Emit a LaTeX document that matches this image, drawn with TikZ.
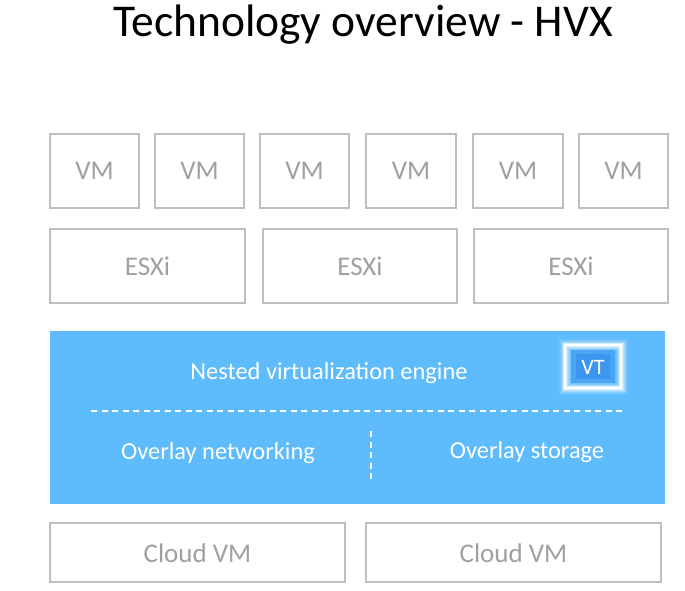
\documentclass[tikz,border=0pt]{standalone}
\usepackage{fontspec}
\setmainfont{Carlito}
\definecolor{boxgray}{RGB}{190,190,190}
\definecolor{txtgray}{RGB}{160,160,160}
\definecolor{engblue}{RGB}{94,187,252}
\definecolor{vtblue}{RGB}{60,150,240}
\begin{document}
\begin{tikzpicture}[x=1pt,y=-1pt,
  graybox/.style={draw=boxgray,line width=1.3pt,fill=white},
  graytxt/.style={text=txtgray,font=\fontsize{27}{31}\selectfont},
  whitetxt/.style={text=white,font=\fontsize{24.4}{28}\selectfont},
  sep/.style={draw=white,line width=1.2pt,dash pattern=on 6pt off 4.5pt}]
\useasboundingbox (0,0) rectangle (685,590);
% title
\node[font=\fontsize{45.5}{52}\selectfont] (title) at (363,25) {Technology overview - HVX};
% VMs
\foreach \l/\r [count=\i] in {50/139,155/244,260/349,366/456,473/563,579/668}{
  \draw[graybox] (\l,134) rectangle (\r,208);
  \node[graytxt] (vm\i) at ({(\l+\r)/2},171) {VM};
}
% ESXi
\foreach \l/\r [count=\i] in {50/245,263/457,474/668}{
  \draw[graybox] (\l,229) rectangle (\r,303);
  \node[graytxt] (esx\i) at ({(\l+\r)/2},266) {ESXi};
}
% engine
\fill[engblue] (50,331) rectangle (665,504);
\node[whitetxt] (eng) at (329,373) {Nested virtualization engine};
\coordinate (hl) at (91,411);
\coordinate (hr) at (622,411);
\draw[sep] (hl) -- (hr);
\coordinate (vt1) at (371,431);
\coordinate (vb1) at (371,479);
\draw[sep] (vt1) -- (vb1);
\node[whitetxt] (net) at (218,453) {Overlay networking};
\node[whitetxt] (sto) at (527,452) {Overlay storage};
% VT glow box
\foreach \w/\o in {14/0.06,11/0.1,9/0.14,7/0.2,5/0.3,3.5/0.5}{
  \draw[white,line width=\w pt,opacity=\o] (565,345) rectangle (621,388);
}
\draw[white,line width=2pt] (565,345) rectangle (621,388);
\fill[vtblue!60!engblue] (571,350) rectangle (615,383);
\fill[vtblue] (576,354) rectangle (610,379);
\node[text=white,font=\fontsize{22}{26}\selectfont] (vt) at (593,367) {VT};
% Cloud VMs
\draw[graybox] (50,523) rectangle (345,582);
\node[graytxt] (c1) at (197.5,553) {Cloud VM};
\draw[graybox] (366,523) rectangle (661,582);
\node[graytxt] (c2) at (513.5,553) {Cloud VM};
\end{tikzpicture}
\end{document}
